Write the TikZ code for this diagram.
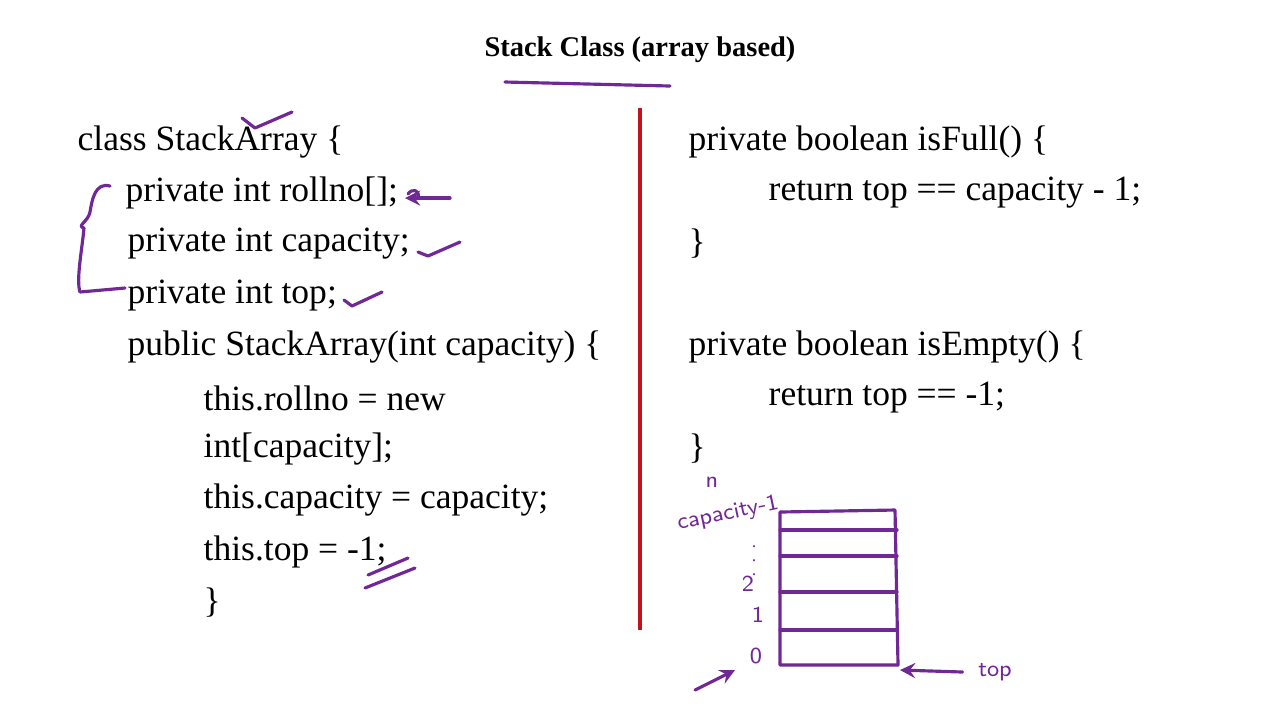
\documentclass[tikz,border=0pt]{standalone}
\usepackage{fontspec}
\setmainfont{Liberation Serif}
\usetikzlibrary{positioning}
\definecolor{ink}{RGB}{112,40,150}
\definecolor{rule}{RGB}{190,20,30}
\tikzset{
  code/.style={anchor=west, inner sep=0pt, font=\fontsize{10.1}{11}\selectfont},
  pen/.style={draw=ink, line width=0.9pt, line cap=round, line join=round},
  note/.style={text=ink, inner sep=0pt, font=\fontsize{6.5}{7}\selectfont\sffamily}
}
\begin{document}
\begin{tikzpicture}[x=0.01cm, y=-0.01cm, >=stealth]
  \useasboundingbox (0,0) rectangle (1280,720);

  % title
  \node [inner sep=0pt, font=\fontsize{8.1}{9}\selectfont\bfseries] (title) at (640,50) {Stack Class (array based)};
  \draw [pen] (505,82) -- (670,86);

  % left column
  \foreach \t/\x/\y [count=\i] in {
      {class StackArray \{}/77/142,
      {private int rollno[];}/125/193,
      {private int capacity;}/127/244,
      {private int top;}/127/295,
      {public StackArray(int capacity) \{}/127/347,
      {this.rollno = new}/203/398,
      {int[capacity];}/203/449,
      {this.capacity = capacity;}/203/500,
      {this.top = -1;}/203/552,
      {\}}/203/603}
    \node [code] (left-\i) at (\x,\y) {\t};

  % divider
  \coordinate (div-top) at (640,108);
  \coordinate (div-bot) at (640,630);
  \draw [rule, line width=1pt] (div-top) -- (div-bot);

  % right column
  \foreach \t/\x/\y [count=\i] in {
      {private boolean isFull() \{}/688/142,
      {return top == capacity - 1;}/768/193,
      {\}}/688/244,
      {private boolean isEmpty() \{}/688/347,
      {return top == -1;}/768/398,
      {\}}/688/449}
    \node [code] (right-\i) at (\x,\y) {\t};

  % annotations on the code
  \draw [pen] (242,118) -- (255,128) -- (292,112);
  \draw [pen, ->] (450,198) -- (405,198);
  \draw [pen] (408,194) .. controls (412,188) and (420,190) .. (418,197);
  \draw [pen] (418,252) -- (428,256) -- (460,242);
  \draw [pen] (344,300) -- (352,306) -- (382,292);
  \draw [pen] (110,186) .. controls (95,182) and (92,200) .. (90,212)
    .. controls (88,222) and (76,226) .. (84,228)
    .. controls (82,250) and (76,280) .. (80,292) -- (125,288);
  \draw [pen] (368,575) -- (408,558);
  \draw [pen] (365,588) -- (415,568);

  % stack sketch
  \draw [pen] (780,512) -- (895,510) -- (898,665) -- (780,665) -- cycle;
  \foreach \y in {530,556,592,630}
    \draw [pen] (780,\y) -- (897,\y);
  \node [note] (idx-0) at (756,656) {0};
  \node [note] (idx-1) at (758,615) {1};
  \node [note] (idx-2) at (748,584) {2};
  \node [note, font=\tiny] (idx-d) at (754,550) {$\vdots$};
  \node [note, rotate=12] (idx-top) at (728,514) {capacity-1};
  \node [note] (idx-n) at (712,482) {n};
  \node [note] (lbl-top) at (995,672) {top};
  \draw [pen, ->] (lbl-top.west) ++(-15,0) -- (900,670);
  \coordinate (start-tail) at (695,690);
  \draw [pen, ->] (start-tail) -- (735,670);
\end{tikzpicture}
\end{document}
